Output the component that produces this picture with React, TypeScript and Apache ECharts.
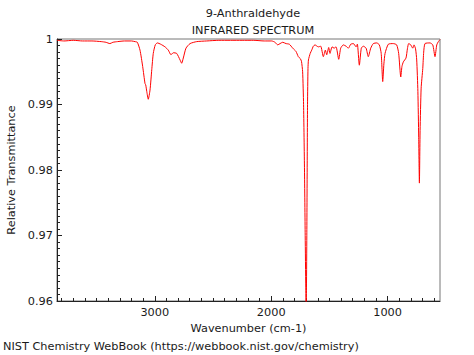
import React, { useEffect, useRef } from "react";
import * as echarts from "echarts";

const titleLines = ["9-Anthraldehyde", "INFRARED SPECTRUM"];
const xName = "Wavenumber (cm-1)";
const yName = "Relative Transmittance";
const footer = "NIST Chemistry WebBook (https://webbook.nist.gov/chemistry)";

const xMajorTicks = [3000, 2000, 1000];
const xMin = 550;
const xMax = 3840;
const yMin = 0.96;
const yMax = 1;

const wavenumbers = [
  3840, 3780, 3700, 3620, 3540, 3460, 3420, 3385, 3360, 3320, 3260, 3200, 3170, 3150,
  3127, 3104, 3084, 3078, 3069, 3056, 3041, 3026, 3013, 2996, 2978, 2949, 2912, 2884,
  2861, 2841, 2812, 2783, 2769, 2755, 2732, 2697, 2640, 2554, 2450, 2350, 2250, 2150,
  2060, 1996, 1967, 1944, 1924, 1901, 1873, 1844, 1815, 1787, 1767, 1750, 1740, 1730,
  1722, 1714, 1708, 1703, 1700, 1697, 1694, 1691, 1688, 1684, 1680, 1665, 1652, 1638,
  1624, 1595, 1575, 1552, 1535, 1523, 1506, 1495, 1477, 1460, 1443, 1420, 1403, 1380,
  1357, 1337, 1317, 1294, 1271, 1260, 1243, 1226, 1209, 1185, 1166, 1145, 1123, 1093,
  1071, 1055, 1042, 1032, 1022, 994, 951, 922, 905, 887, 877, 865, 842, 830, 819, 801,
  784, 773, 760, 750, 740, 733, 727, 721, 712, 698, 690, 679, 636, 612, 593, 578, 564, 550,
];

const transmittance = [
  0.9998, 0.9997, 0.9998, 0.9997, 0.9997, 0.9996, 0.9995, 0.9993, 0.9995, 0.9996, 0.9997, 0.9997, 0.9996, 0.9995,
  0.9983, 0.9958, 0.9932, 0.993, 0.992, 0.9908, 0.9922, 0.9953, 0.9978, 0.9991, 0.9994, 0.9992, 0.9988, 0.9983,
  0.9976, 0.9979, 0.9978, 0.9968, 0.9963, 0.9971, 0.9986, 0.9993, 0.9996, 0.9997, 0.9998, 0.9998, 0.9998, 0.9998,
  0.9997, 0.9997, 0.9995, 0.9991, 0.9993, 0.9995, 0.9993, 0.9992, 0.9986, 0.9981, 0.9973, 0.997, 0.9966, 0.995,
  0.99, 0.98, 0.97, 0.962, 0.9585, 0.962, 0.97, 0.98, 0.99, 0.9955, 0.9968, 0.9978, 0.9983, 0.9989,
  0.9991, 0.9988, 0.9989, 0.9973, 0.9983, 0.9976, 0.9987, 0.9978, 0.9988, 0.9986, 0.9988, 0.9969, 0.9986, 0.9991,
  0.9989, 0.9986, 0.9992, 0.9993, 0.9988, 0.9992, 0.996, 0.9986, 0.9989, 0.9986, 0.9973, 0.9986, 0.9993, 0.9994,
  0.9991, 0.9978, 0.9935, 0.9962, 0.9978, 0.9992, 0.9993, 0.9991, 0.9978, 0.9942, 0.9958, 0.9965, 0.9971, 0.9985, 0.9993, 0.9991,
  0.9986, 0.9991, 0.9985, 0.9968, 0.992, 0.985, 0.978, 0.986, 0.9925, 0.9955, 0.998, 0.9993, 0.9994, 0.9991, 0.9973, 0.9991, 0.9996, 0.9999,
];

const FONT = "DejaVu Sans";
const TEXT = "#1a1a1a";

export default function App() {
  const ref = useRef<HTMLDivElement>(null);
  useEffect(() => {
    if (!ref.current) return;
    const chart = echarts.init(ref.current, null, { renderer: "svg" });
    const minorTicks: number[] = [];
    for (let v = 600; v <= 3800; v += 100) minorTicks.push(v);
    const data = wavenumbers.map((w, i) => [w, transmittance[i]]);
    chart.setOption({
      animation: false,
      backgroundColor: "#ffffff",
      textStyle: { fontFamily: FONT },
      title: {
        text: titleLines.join("\n"),
        left: 248,
        textAlign: "center",
        top: 0,
        textStyle: { fontFamily: FONT, fontSize: 11.3, fontWeight: "normal", color: TEXT, lineHeight: 17 },
      },
      grid: {
        left: 57,
        right: 34,
        top: 39,
        bottom: 54,
        show: true,
        borderColor: "#777",
        borderWidth: 1,
        backgroundColor: "transparent",
        containLabel: false,
        outerBoundsMode: "none",
      },
      xAxis: [
        {
          type: "value",
          inverse: true,
          min: xMin,
          max: xMax,
          position: "bottom",
          name: xName,
          nameLocation: "middle",
          nameGap: 20,
          nameTextStyle: { fontFamily: FONT, fontSize: 11.3, color: TEXT },
          axisLine: { show: true, lineStyle: { color: "#222", width: 1 } },
          axisTick: { show: true, inside: true, length: 5, customValues: xMajorTicks, lineStyle: { color: "#222" } },
          axisLabel: {
            show: true,
            customValues: xMajorTicks,
            margin: 6,
            fontFamily: FONT,
            fontSize: 11.3,
            color: TEXT,
            formatter: (v: number) => String(v),
          },
          splitLine: { show: false },
        },
        {
          type: "value",
          inverse: true,
          min: xMin,
          max: xMax,
          position: "bottom",
          axisLine: { show: false },
          axisTick: { show: true, inside: true, length: 3, customValues: minorTicks, lineStyle: { color: "#222" } },
          axisLabel: { show: false },
          splitLine: { show: false },
        },
      ],
      yAxis: {
        type: "value",
        min: yMin,
        max: yMax,
        interval: 0.01,
        name: yName,
        nameLocation: "middle",
        nameGap: 40,
        nameTextStyle: { fontFamily: FONT, fontSize: 11.3, color: TEXT },
        axisLine: { show: true, lineStyle: { color: "#222", width: 1 } },
        axisTick: { show: true, inside: true, length: 5, lineStyle: { color: "#222" } },
        minorTick: { show: true, splitNumber: 10, length: 3, lineStyle: { color: "#222" } },
        axisLabel: { margin: 4, fontFamily: FONT, fontSize: 11.3, color: TEXT },
        splitLine: { show: false },
        minorSplitLine: { show: false },
      },
      graphic: [
        {
          type: "text",
          left: 3,
          top: 341,
          style: { text: footer, font: `11.3px "${FONT}"`, fill: TEXT },
        },
      ],
      series: [
        {
          type: "line",
          xAxisIndex: 0,
          data,
          showSymbol: false,
          symbol: "none",
          smooth: 0.2,
          lineStyle: { color: "#ff0000", width: 1 },
          clip: true,
        },
      ],
    });
    return () => chart.dispose();
  }, []);
  return <div ref={ref} style={{ position: "fixed", left: 0, top: 0, width: 474, height: 355 }} />;
}
